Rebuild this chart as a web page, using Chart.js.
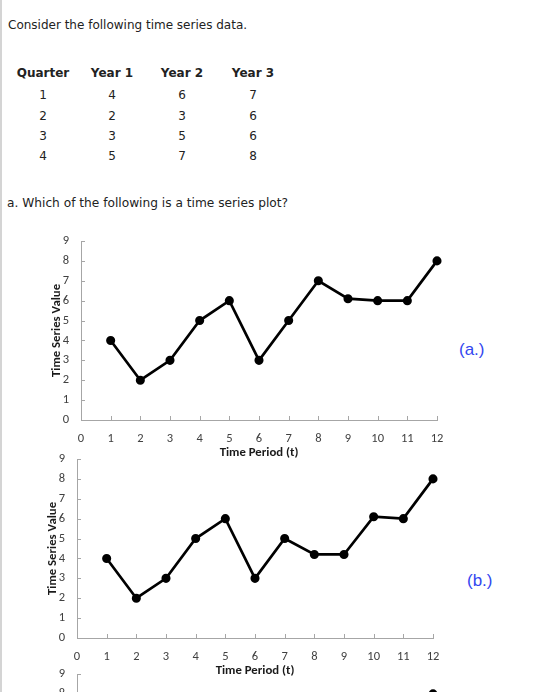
<!DOCTYPE html>
<html>
<head>
<meta charset="utf-8">
<script src="https://cdn.jsdelivr.net/npm/chart.js@4.4.1/dist/chart.umd.min.js"></script>
<style>
  html, body { margin: 0; padding: 0; background: #fff; overflow: hidden; }
  body { width: 545px; height: 692px; position: relative; font-family: "DejaVu Sans", Verdana, sans-serif; font-size: 12px; color: #222; }
  .borda { position: absolute; left: 0; top: 0; width: 2px; height: 692px; background: #d4d4d4; }
  .texto { position: absolute; white-space: nowrap; line-height: 16px; }
  .celula { position: absolute; width: 80px; text-align: center; line-height: 16px; }
  .cabecalho { font-weight: bold; }
  canvas { position: absolute; }
  .rotulo { position: absolute; font-family: "Liberation Sans", Arial, sans-serif; font-size: 17px; line-height: 20px; color: #3346f0; }
</style>
</head>
<body>
<div class="borda"></div>
<div class="texto" style="left:8px; top:17px;">Consider the following time series data.</div>
<div id="tabela"></div>
<div class="texto" style="left:7px; top:195px; font-size:12.2px;">a. Which of the following is a time series plot?</div>

<canvas id="grafico-a" width="410" height="232" style="left:40px; top:231px;"></canvas>
<div class="rotulo" style="left:459px; top:340px;">(a.)</div>

<canvas id="grafico-b" width="410" height="232" style="left:36px; top:449px;"></canvas>
<div class="rotulo" style="left:467px; top:571px;">(b.)</div>

<canvas id="grafico-c" width="410" height="232" style="left:36px; top:664px;"></canvas>

<script>
// dados da tabela
const cabecalhos = ['Quarter', 'Year 1', 'Year 2', 'Year 3'];
const trimestres = [1, 2, 3, 4];
const ano1 = [4, 2, 3, 5];
const ano2 = [6, 3, 5, 7];
const ano3 = [7, 6, 6, 8];

// dados dos gráficos
const periodos = [1, 2, 3, 4, 5, 6, 7, 8, 9, 10, 11, 12];
const serieA = [4, 2, 3, 5, 6, 3, 5, 7, 6.1, 6, 6, 8];
const serieB = [4, 2, 3, 5, 6, 3, 5, 4.2, 4.2, 6.1, 6, 8];
const serieC = ano1.concat(ano2, ano3); // só o topo aparece

const centrosColunas = [43, 112, 182, 253];
const topoCabecalho = 65;
const topoLinhas = [87, 108, 128, 148];

function renderizarTabela() {
  const container = document.getElementById('tabela');
  const colunas = [trimestres, ano1, ano2, ano3];
  let html = '';
  cabecalhos.forEach((titulo, c) => {
    html += `<div class="celula cabecalho" style="left:${centrosColunas[c] - 40}px; top:${topoCabecalho}px;">${titulo}</div>`;
    colunas[c].forEach((valor, l) => {
      html += `<div class="celula" style="left:${centrosColunas[c] - 40}px; top:${topoLinhas[l]}px;">${valor}</div>`;
    });
  });
  container.innerHTML = html;
}

// marcas de escala para dentro, estilo Excel
const marcasInternas = {
  id: 'marcasInternas',
  beforeDatasetsDraw(chart) {
    const { ctx, scales: { x, y } } = chart;
    ctx.save();
    ctx.strokeStyle = '#a6a6a6';
    ctx.lineWidth = 1;
    ctx.beginPath();
    x.ticks.forEach(t => {
      const px = Math.round(x.getPixelForValue(t.value)) + 0.5;
      ctx.moveTo(px, y.bottom);
      ctx.lineTo(px, y.bottom - 4);
    });
    y.ticks.forEach(t => {
      const py = Math.round(y.getPixelForValue(t.value)) + 0.5;
      ctx.moveTo(x.left, py);
      ctx.lineTo(x.left + 4, py);
    });
    ctx.stroke();
    ctx.restore();
  }
};

const fonteTicks = { family: 'Carlito, Lato, sans-serif', size: 12.5 };
const fonteTitulo = { family: 'Carlito, Lato, sans-serif', size: 12.75, weight: 'bold' };

function criarGrafico(id, serie) {
  return new Chart(document.getElementById(id), {
    type: 'line',
    data: {
      datasets: [{
        data: periodos.map((p, i) => ({ x: p, y: serie[i] })),
        borderColor: '#000',
        backgroundColor: '#000',
        borderWidth: 2.7,
        pointRadius: 3.2,
        pointHoverRadius: 3.2,
        tension: 0,
        clip: false
      }]
    },
    options: {
      responsive: false,
      animation: false,
      events: [],
      layout: { padding: { top: 10, right: 13, left: 0, bottom: 0 } },
      plugins: { legend: { display: false }, tooltip: { enabled: false } },
      scales: {
        x: {
          type: 'linear',
          min: 0,
          max: 12,
          // tamanho fixo para a área do gráfico cair no mesmo lugar da figura
          afterFit: s => { s.height = 43; s.paddingLeft = 0; s.paddingRight = 0; },
          ticks: { stepSize: 1, padding: 11.5, color: '#404040', font: fonteTicks, maxRotation: 0 },
          grid: { drawOnChartArea: false, drawTicks: false },
          border: { color: '#a6a6a6' },
          title: { display: true, text: 'Time Period (t)', color: '#1a1a1a', font: fonteTitulo, padding: { top: 0, bottom: 2.4 } }
        },
        y: {
          min: 0,
          max: 9,
          afterFit: s => { s.width = 41; s.paddingTop = 0; s.paddingBottom = 0; },
          ticks: { stepSize: 1, padding: 12, color: '#404040', font: fonteTicks },
          grid: { drawOnChartArea: false, drawTicks: false },
          border: { color: '#a6a6a6' },
          title: { display: true, text: 'Time Series Value', color: '#1a1a1a', font: fonteTitulo, padding: { top: 9.4, bottom: 0 } }
        }
      }
    },
    plugins: [marcasInternas]
  });
}

renderizarTabela();
criarGrafico('grafico-a', serieA);
criarGrafico('grafico-b', serieB);
criarGrafico('grafico-c', serieC);
</script>
</body>
</html>
